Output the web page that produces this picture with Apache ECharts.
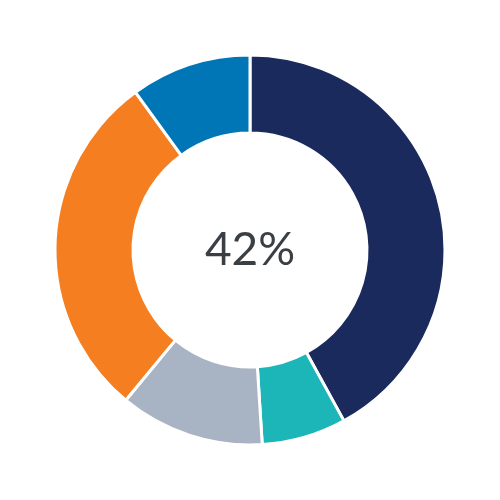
<!DOCTYPE html>
<html>
<head>
<meta charset="utf-8">
<script src="https://cdn.jsdelivr.net/npm/echarts@6/dist/echarts.min.js"></script>
<style>
html,body{margin:0;padding:0;background:#fff;}
#chart{width:500px;height:500px;}
</style>
</head>
<body>
<div id="chart"></div>
<script>
// 各分段数据
var segNames = ['A', 'B', 'C', 'D', 'E'];
var segValues = [42, 7, 12, 29, 10];
var segColors = ['#1b2a5c', '#1cb5b8', '#a8b4c3', '#f47e20', '#0076b6'];
var centerText = '42%';

var pieData = [];
for (var i in segValues) {
    pieData.push({
        name: segNames[i],
        value: segValues[i],
        itemStyle: {color: segColors[i]}
    });
}

var pieChart = echarts.init(document.getElementById('chart'));
var option = {
    animation: false,
    title: {
        text: centerText,
        left: 'center',
        top: 'middle',
        textStyle: {
            fontFamily: 'Lato',
            fontWeight: 'normal',
            fontSize: 46,
            color: '#3a3f44'
        }
    },
    series: [{
        type: 'pie',
        center: [250, 250],
        radius: [117, 195],
        startAngle: 90,
        clockwise: true,
        label: {show: false},
        labelLine: {show: false},
        emphasis: {disabled: true},
        itemStyle: {
            borderColor: '#fff',
            borderWidth: 3
        },
        data: pieData
    }]
};
pieChart.setOption(option);
</script>
</body>
</html>
